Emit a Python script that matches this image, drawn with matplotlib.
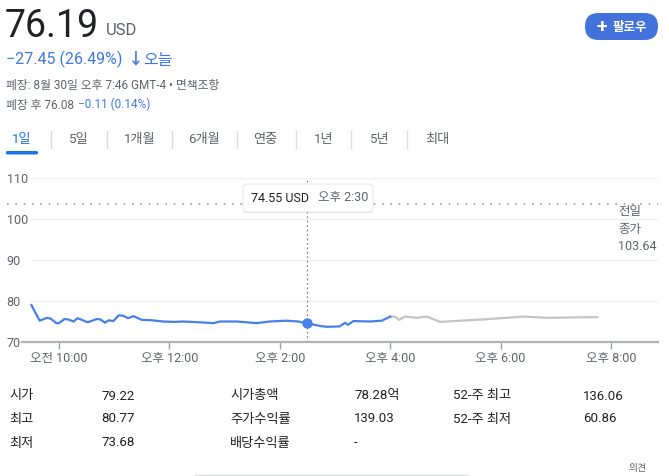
import matplotlib
matplotlib.use('Agg')
import matplotlib.pyplot as plt
from matplotlib.patches import FancyBboxPatch

plt.rcParams['font.family'] = ['Roboto', 'Noto Sans CJK KR', 'DejaVu Sans']

# 정규장 (시간, 가격)
reg_times = ["9:30", "9:39", "9:47", "9:51", "9:57", "10:00", "10:06", "10:10", "10:16", "10:20",
             "10:25", "10:31", "10:36", "10:41", "10:45", "10:50", "10:54", "10:59", "11:05", "11:10",
             "11:15", "11:21", "11:30", "11:41", "11:53", "12:06", "12:15", "12:33", "12:48", "12:55",
             "13:13", "13:35", "13:49", "14:07", "14:20", "14:30", "14:44", "14:51", "15:05", "15:11",
             "15:14", "15:20", "15:38", "15:51", "16:00"]
reg_prices = [79.0, 75.2, 75.9, 75.7, 74.6, 74.6, 75.6, 75.5, 75.0, 75.8,
              75.4, 74.8, 75.2, 75.6, 75.5, 74.7, 75.3, 75.1, 76.5, 76.4,
              75.8, 76.3, 75.4, 75.3, 75.0, 74.9, 75.0, 74.8, 74.6, 75.0,
              75.0, 74.6, 75.0, 75.2, 75.0, 74.55, 73.9, 73.7, 73.8, 74.7,
              74.2, 75.1, 75.0, 75.2, 76.19]

# 시간외 거래
ah_times = ["16:00", "16:05", "16:10", "16:16", "16:29", "16:40", "16:54", "17:16", "17:41",
            "18:25", "18:50", "19:23", "19:45"]
ah_prices = [76.19, 76.2, 75.4, 76.2, 75.9, 76.2, 74.9, 75.2, 75.5,
             76.2, 75.9, 76.0, 76.08]

prev_close = 103.64
hover_time = "14:30"
hover_price = 74.55

x_ticks = [10, 12, 14, 16, 18, 20]
x_labels = ["오전 10:00", "오후 12:00", "오후 2:00", "오후 4:00", "오후 6:00", "오후 8:00"]
y_ticks = [70, 80, 90, 100, 110]

tabs = ["1일", "5일", "1개월", "6개월", "연중", "1년", "5년", "최대"]
stat_labels = [["시가", "최고", "최저"], ["시가총액", "주가수익률", "배당수익률"], ["52-주 최고", "52-주 최저"]]
stat_values = [["79.22", "80.77", "73.68"], ["78.28억", "139.03", "-"], ["136.06", "60.86"]]


def to_hours(ts):
    return [int(t.split(':')[0]) + int(t.split(':')[1]) / 60 for t in ts]


W, H = 669, 476
BLUE = '#3f78e4'
GRAY_TXT = '#5f6368'
DARK = '#202124'

fig = plt.figure(figsize=(W / 100, H / 100), dpi=100)

# 차트
ax = fig.add_axes([22 / W, (H - 342) / H, 636 / W, 164 / H])
ax.set_facecolor('none')
ax.set_xlim(9.33, 20.851)
ax.set_ylim(70, 110)

ax.hlines(y_ticks[1:], 8 / 636, 1, transform=ax.get_yaxis_transform(), color='#f1f1f1', lw=1, zorder=0)
ax.plot([-15 / 636, 1], [prev_close, prev_close], transform=ax.get_yaxis_transform(), clip_on=False,
        color='#9aa0a6', lw=1.2, ls=(0, (1, 4)), zorder=1)
ax.axvline(to_hours([hover_time])[0], color='#70757a', lw=0.8, ls=(0, (1.5, 2.5)), zorder=1)

ax.plot(to_hours(ah_times), ah_prices, color='#c4c4c4', lw=1.6, zorder=2)
ax.plot(to_hours(reg_times), reg_prices, color='#4680e8', lw=1.6, zorder=3)
ax.plot(to_hours([hover_time]), [hover_price], 'o', color='#4680e8', ms=6.5, zorder=4)

for s in ['top', 'right', 'left']:
    ax.spines[s].set_visible(False)
ax.spines['bottom'].set_color('#b0b3b8')
ax.spines['bottom'].set_linewidth(1.6)

ax.set_xticks(x_ticks)
ax.set_xticklabels(x_labels)
ax.tick_params(axis='x', length=5, width=1, color='#9aa0a6', pad=2, labelsize=9, labelcolor=GRAY_TXT)
ax.set_yticks(y_ticks)
ax.set_yticklabels([str(v) for v in y_ticks])
ax.tick_params(axis='y', length=0, pad=11, labelsize=9, labelcolor=GRAY_TXT)
for lab in ax.get_yticklabels():
    lab.set_horizontalalignment('left')

# 나머지 화면 요소 (픽셀 좌표)
ov = fig.add_axes([0, 0, 1, 1], zorder=5)
ov.set_xlim(0, W)
ov.set_ylim(H, 0)
ov.axis('off')

# 헤더
ov.text(5, 37, "76.19", fontsize=27, color=DARK, va='baseline')
ov.text(106, 35, "USD", fontsize=12, color=GRAY_TXT, va='baseline')
ov.text(6, 64.5, "−27.45 (26.49%)", fontsize=11.5, color=BLUE, va='baseline')
ov.text(128, 64.5, "↓", fontsize=11.5, color=BLUE, va='baseline', weight='bold')
ov.text(143, 64.5, "오늘", fontsize=11.5, color=BLUE, va='baseline')
ov.text(6, 89.5, "폐장: 8월 30일 오후 7:46 GMT-4 • 면책조항", fontsize=8.5, color=GRAY_TXT, va='baseline')
ov.text(6, 108.5, "폐장 후 76.08", fontsize=8.5, color=GRAY_TXT, va='baseline')
ov.text(78, 108.5, "−0.11 (0.14%)", fontsize=8.5, color=BLUE, va='baseline')

# 팔로우 버튼
ov.add_patch(FancyBboxPatch((585, 13), 73, 27, boxstyle='round,pad=0,rounding_size=13.5',
                            fc='#4372dc', ec='none'))
ov.text(602, 27, "+", fontsize=14, color='white', ha='center', va='center', weight='bold')
ov.text(613, 27, "팔로우", fontsize=9, color='white', va='center', weight='bold')

# 기간 탭
tab_x = [12, 69, 124, 188, 253, 314, 370, 425]
for i, t in enumerate(tabs):
    ov.text(tab_x[i], 139, t, fontsize=9.5, va='center',
            color='#1a73e8' if i == 0 else GRAY_TXT)
for x in [51, 107, 172, 237, 296, 351, 407]:
    ov.plot([x, x], [131, 148], color='#dadce0', lw=1)
ov.add_patch(FancyBboxPatch((6, 151), 32, 3.5, boxstyle='round,pad=0,rounding_size=1.5',
                            fc='#1a73e8', ec='none'))

# 툴팁
ov.add_patch(FancyBboxPatch((243, 185), 130, 28, boxstyle='round,pad=0,rounding_size=4',
                            fc='black', ec='none', alpha=0.10))
ov.add_patch(FancyBboxPatch((243, 184), 130, 28, boxstyle='round,pad=0,rounding_size=4',
                            fc='white', ec='#e3e3e3', lw=0.6))
ov.text(251, 198, "74.55 USD", fontsize=9, color=DARK, va='center')
ov.text(318, 198, "오후 2:30", fontsize=9, color=GRAY_TXT, va='center')

# 전일 종가
ov.text(618, 212, "전일", fontsize=9, color=GRAY_TXT, va='center')
ov.text(618, 229, "종가", fontsize=9, color=GRAY_TXT, va='center')
ov.text(618, 246, "103.64", fontsize=9, color=GRAY_TXT, va='center')

# 통계
label_x = [9, 230, 453]
value_x = [101, 354, 583]
row_y = [396, 419, 443]
for c in range(3):
    for r in range(len(stat_labels[c])):
        ov.text(label_x[c], row_y[r], stat_labels[c][r], fontsize=9.5, color=DARK, va='center')
        ov.text(value_x[c], row_y[r], stat_values[c][r], fontsize=9.5, color=DARK, va='center')

ov.plot([195, 467], [475, 475], color='#dadce0', lw=1)
ov.text(628, 463, "의견", fontsize=7, color=GRAY_TXT, va='top')

fig.savefig("out.png", dpi=100)
